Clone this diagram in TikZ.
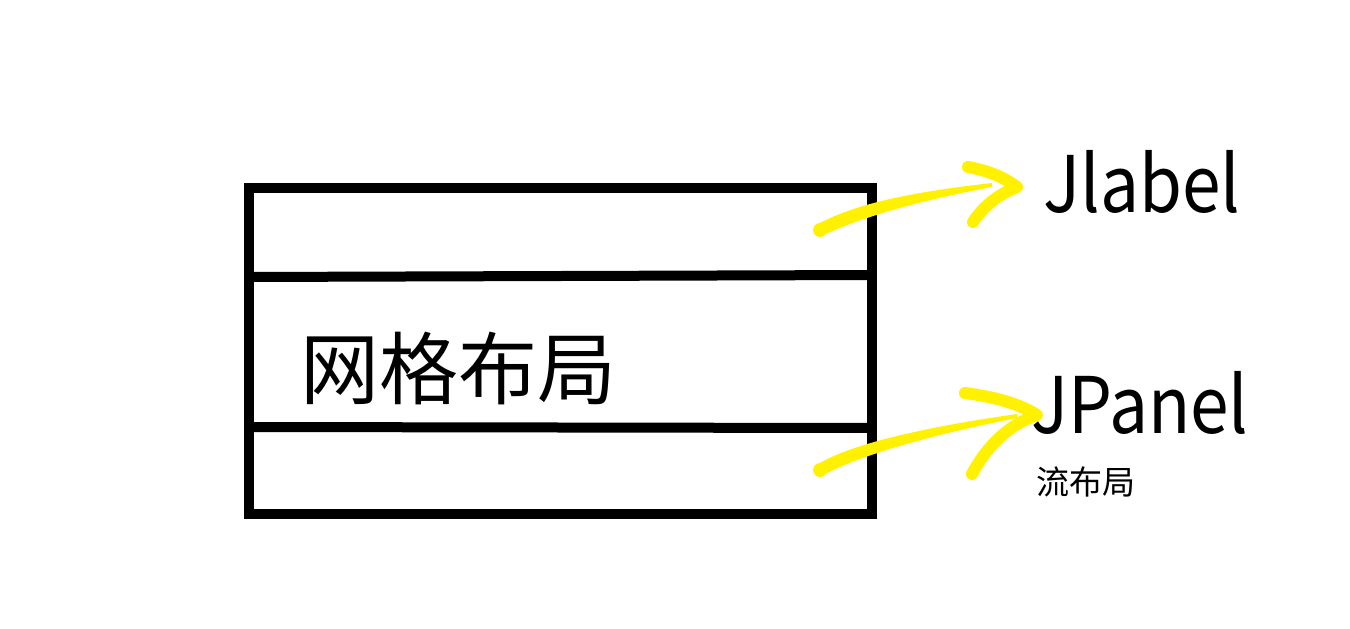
\documentclass[tikz,border=0pt]{standalone}
\usepackage{fontspec}
\setmainfont{Noto Sans CJK SC}
\newfontfamily\narrowlatin[FakeStretch=0.89]{Noto Sans CJK SC}
\usetikzlibrary{calc}
\definecolor{penyellow}{RGB}{255,241,0}
\tikzset{
  frameline/.style={line width=10pt},
  penstroke/.style={draw=penyellow, line width=#1, line cap=round, line join=round},
  bigtext/.style={anchor=base west, inner sep=0pt, font=\fontsize{79}{80}\selectfont},
  latintext/.style={anchor=base west, inner sep=0pt, font=\narrowlatin\fontsize{78}{80}\selectfont},
  smalltext/.style={anchor=base west, inner sep=0pt, font=\fontsize{33}{34}\selectfont},
}
\begin{document}
\begin{tikzpicture}[x=1pt,y=-1pt]
    \useasboundingbox (0,0) rectangle (1350,629);
    % the grid
    \draw[frameline] (249,188) rectangle (872,514);
    \draw[frameline] (249,277) -- (872,275);
    \draw[frameline] (249,427) -- (872,428);
    \node[bigtext] (grid) at (300,398) {网格布局};
    % labels on the right
    \node[latintext] (jlabel) at (1043,212) {Jlabel};
    \node[latintext] (jpanel) at (1031,433) {JPanel};
    \node[smalltext] (flow) at (1036,494) {流布局};
    % yellow pen strokes
    \coordinate (toptail) at (820,230);
    \coordinate (toptip) at (1017,187);
    \coordinate (lowtail) at (820,470);
    \coordinate (lowtip) at (1037,415);
    \fill[penyellow] ($(toptail)+(0,-7)$) .. controls (852,206) and (902,193) .. ($(toptip)+(-25,-4)$)
      -- ($(toptip)+(-25,0)$) .. controls (902,204) and (850,222) .. ($(toptail)+(0,7)$) -- cycle;
    \fill[penyellow] (toptail) circle (7);
    \draw[penstroke=12pt] (968,167) .. controls (990,171) and (1005,178) .. (toptip)
      .. controls (997,195) and (983,207) .. (973,222);
    \fill[penyellow] ($(lowtail)+(0,-7)$) .. controls (852,444) and (925,427) .. ($(lowtip)+(-20,-1)$)
      -- ($(lowtip)+(-20,3)$) .. controls (925,436) and (852,458) .. ($(lowtail)+(0,7)$) -- cycle;
    \fill[penyellow] (lowtail) circle (7);
    \draw[penstroke=12pt] (965,393) .. controls (995,397) and (1020,404) .. (lowtip)
      .. controls (1005,426) and (985,450) .. (972,474);
\end{tikzpicture}
\end{document}
